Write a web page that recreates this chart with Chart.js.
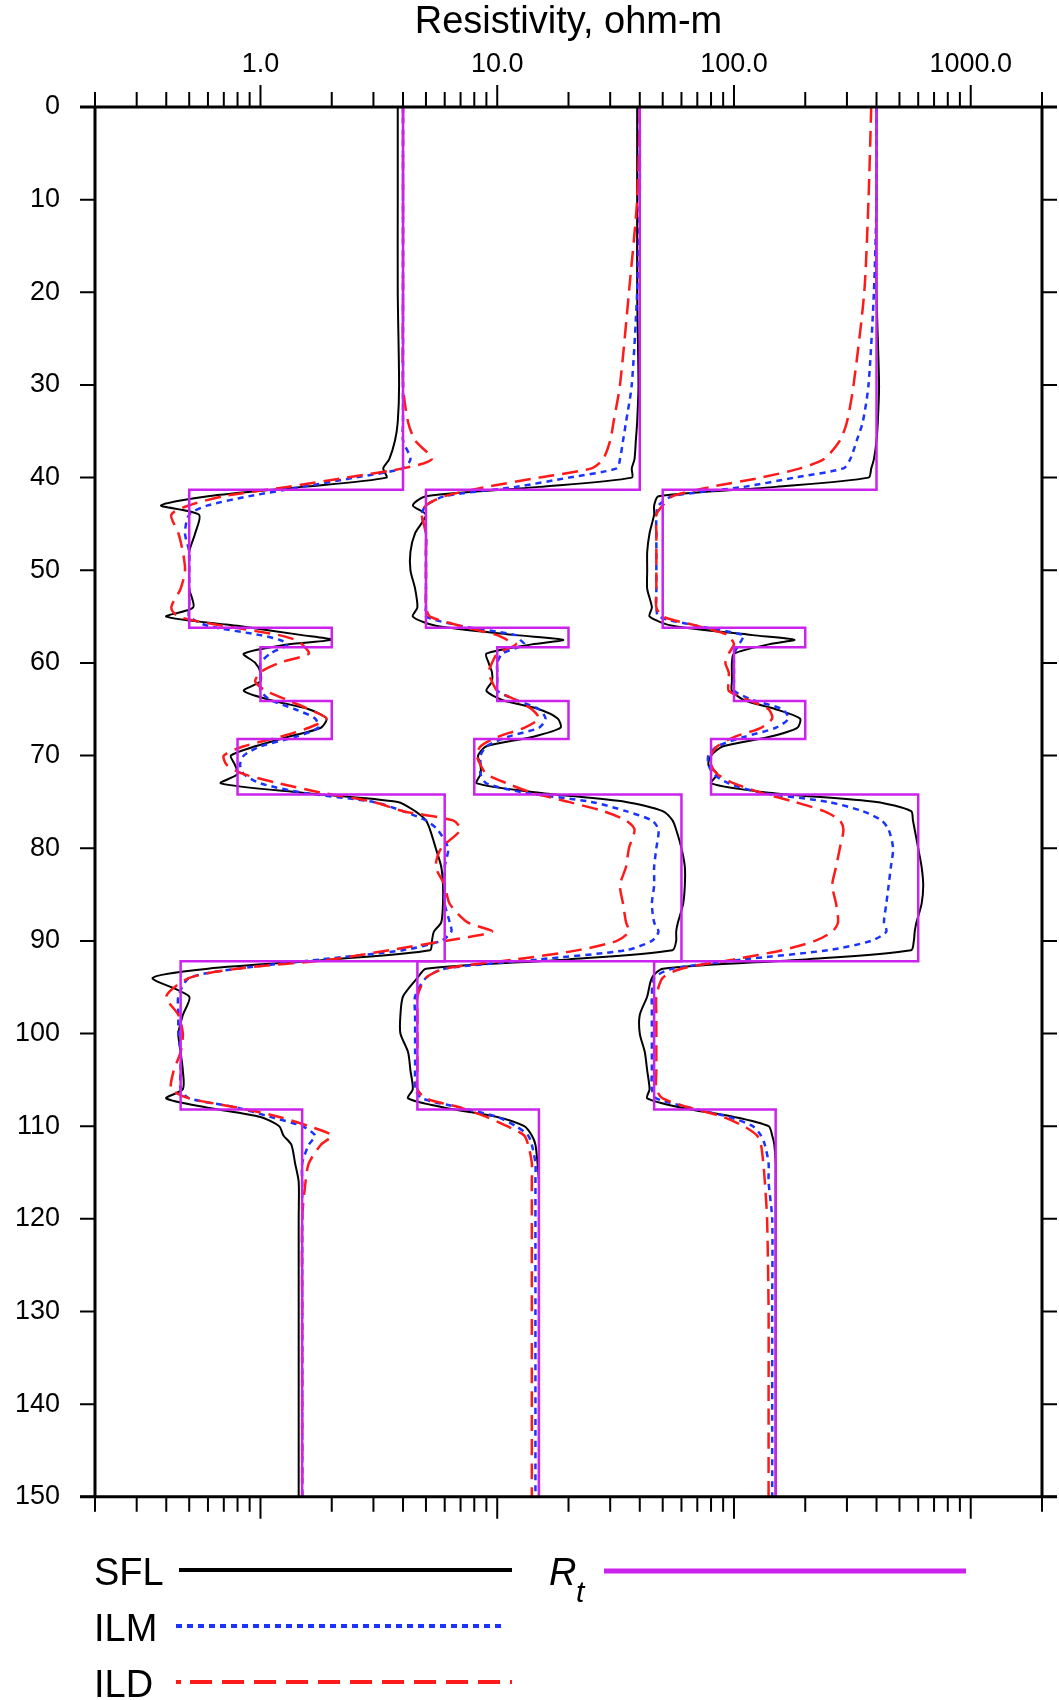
<!DOCTYPE html>
<html>
<head>
<meta charset="utf-8">
<script src="https://cdn.jsdelivr.net/npm/chart.js@4.4.1/dist/chart.umd.min.js"></script>
<style>
    body { margin: 0; background: #fff; }
    #wrap { position: absolute; left: 0; top: 0; width: 1059px; height: 1540px; }
    #legend { position: absolute; left: 0; top: 1530px; }
</style>
</head>
<body>
<div id="wrap"><canvas id="logChart" width="1059" height="1540"></canvas></div>
<svg id="legend" width="1059" height="170" font-family="'Liberation Sans', Arial, sans-serif" font-size="38">
    <text x="94" y="55">SFL</text>
    <line x1="179" y1="40" x2="512" y2="40" stroke="#000" stroke-width="4"/>
    <text x="549" y="55" font-style="italic">R</text>
    <text x="576" y="72" font-style="italic" font-size="30">t</text>
    <line x1="604" y1="41" x2="966" y2="41" stroke="#cc22ee" stroke-width="5"/>
    <text x="94" y="111">ILM</text>
    <line x1="176" y1="96" x2="503" y2="96" stroke="#1a33ff" stroke-width="4" stroke-dasharray="6,5"/>
    <text x="94" y="167">ILD</text>
    <line x1="176" y1="152" x2="181" y2="152" stroke="#ff1a1a" stroke-width="4"/>
    <line x1="190" y1="152" x2="512" y2="152" stroke="#ff1a1a" stroke-width="4" stroke-dasharray="22,10"/>
</svg>
<script>
// depth grid (m) shared by all logged curves
const depths = [
    0, 10, 20, 30,
    34, 36, 38, 39, 40, 41, 42, 43, 44,
    46, 48, 50, 52, 54, 55, 56, 57, 57.5, 58,
    59, 60, 61, 62, 63, 64, 65, 66, 67, 68,
    69, 70, 71, 72, 73, 74, 75, 76, 77, 78,
    80, 82, 84, 86, 88, 89, 90, 91, 92, 93, 94,
    96, 98, 100, 102, 104, 106, 107, 108, 109, 110,
    111, 112, 114, 116, 120, 130, 140, 150
];

// model 1
const sfl1 = [
    3.8, 3.8, 3.8, 3.85,
    3.8, 3.7, 3.5, 3.3, 3.4, 1.5, 0.6, 0.38, 0.55,
    0.53, 0.5, 0.5, 0.5, 0.52, 0.4, 0.8, 1.5, 2.0, 1.3,
    0.85, 0.95, 1.0, 1.0, 0.85, 1.1, 1.6, 1.9, 1.8, 1.3,
    0.95, 0.75, 0.78, 0.8, 0.68, 1.5, 3.8, 4.5, 5.0, 5.2,
    5.5, 5.8, 5.9, 5.9, 5.8, 5.4, 5.3, 5.2, 2.0, 0.6, 0.35,
    0.5, 0.47, 0.45, 0.46, 0.47, 0.47, 0.4, 0.6, 1.0, 1.2,
    1.25, 1.35, 1.4, 1.45, 1.45, 1.45, 1.45, 1.45
];
const ilm1 = [
    4, 4, 4, 4,
    4, 4, 4.3, 4.0, 2.5, 1.5, 0.9, 0.6, 0.5,
    0.48, 0.5, 0.5, 0.5, 0.5, 0.5, 0.6, 1.0, 1.2, 1.3,
    1.1, 1.0, 1.0, 1.0, 1.0, 1.1, 1.4, 1.7, 1.75, 1.4,
    1.0, 0.85, 0.82, 0.85, 1.0, 1.5, 3.0, 4.0, 5.0, 5.6,
    6.2, 6.0, 6.0, 6.0, 6.3, 6.4, 5.8, 4.0, 1.8, 0.8, 0.5,
    0.45, 0.45, 0.45, 0.46, 0.46, 0.46, 0.5, 0.8, 1.1, 1.5,
    1.7, 1.6, 1.5, 1.5, 1.5, 1.5, 1.5, 1.5
];
const ild1 = [
    4, 4, 4, 4,
    4.2, 4.5, 5.3, 4.0, 2.3, 1.3, 0.7, 0.5, 0.42,
    0.45, 0.47, 0.48, 0.46, 0.42, 0.45, 0.7, 1.2, 1.4, 1.5,
    1.6, 1.2, 1.0, 0.95, 1.05, 1.3, 1.6, 1.9, 1.6, 1.2,
    0.85, 0.7, 0.72, 0.85, 1.2, 1.8, 3.0, 4.0, 6.5, 7.0,
    5.8, 5.5, 6.0, 6.3, 7.5, 9.5, 6.0, 3.5, 2.0, 0.8, 0.5,
    0.4, 0.45, 0.47, 0.46, 0.43, 0.42, 0.5, 0.8, 1.2, 1.6,
    2.0, 1.8, 1.6, 1.55, 1.5, 1.5, 1.5, 1.5
];

// model 2
const sfl2 = [
    39, 39, 39, 39.5,
    39, 38.5, 38, 37, 37, 15, 5, 4.4, 5,
    4.5, 4.3, 4.3, 4.5, 4.6, 4.4, 5.5, 12, 19, 14,
    9, 9.2, 9.5, 9.5, 9.0, 10.5, 15, 18, 18.5, 14,
    9, 8.3, 8.5, 8.5, 8.2, 15, 35, 50, 55, 57,
    60, 62, 62, 61, 58, 57, 57, 55, 20, 5, 4.6,
    4.0, 3.9, 3.9, 4.2, 4.3, 4.4, 4.2, 6, 10, 13,
    14, 14.5, 14.8, 15, 15, 15, 15, 15
];
const ilm2 = [
    40, 40, 39, 37,
    35, 34, 33, 32, 20, 12, 6, 5, 4.8,
    5, 5, 5, 5, 5, 5, 7, 12, 12.5, 13,
    10.5, 10, 10, 10, 10, 12, 15, 16, 15, 11,
    9, 8.5, 8.5, 8.5, 9, 13, 25, 35, 45, 48,
    47, 46, 46, 45, 46, 48, 45, 35, 15, 6, 5,
    4.5, 4.5, 4.5, 4.5, 4.5, 4.5, 4.8, 7, 10, 12,
    13.5, 14, 14.5, 14.5, 14.5, 14.5, 14.5, 14.5
];
const ild2 = [
    40, 39, 36, 33,
    31, 30, 28, 25, 15, 9, 6, 5, 4.8,
    5, 5, 5, 5, 5, 5.2, 7, 10, 11, 12,
    10, 9.5, 9.2, 9.5, 10, 12, 14, 15, 13, 10,
    8.5, 8.2, 8.5, 9, 11, 14, 20, 28, 35, 38,
    36, 35, 33, 34, 35, 36, 32, 22, 12, 6, 5,
    4.6, 4.6, 4.6, 4.6, 4.6, 4.6, 5, 7, 9, 11,
    13, 13.5, 14, 14, 14, 14, 14, 14
];

// model 3
const sfl3 = [
    400, 400, 400, 410,
    405, 400, 390, 380, 370, 150, 48, 46, 46,
    44, 43, 43, 43, 45, 44, 55, 120, 180, 140,
    100, 98, 98, 98, 98, 110, 150, 190, 185, 140,
    90, 80, 78, 85, 80, 140, 400, 560, 570, 580,
    600, 620, 630, 620, 590, 580, 575, 560, 200, 50, 45,
    43, 40, 40, 42, 43, 44, 43, 60, 100, 140,
    145, 148, 150, 150, 150, 150, 150, 150
];
const ilm3 = [
    400, 400, 390, 370,
    350, 330, 310, 290, 180, 110, 55, 48, 47,
    47, 47, 47, 47, 47, 48, 70, 110, 108, 105,
    100, 100, 100, 100, 100, 120, 160, 170, 150, 110,
    85, 78, 78, 82, 95, 130, 250, 350, 420, 450,
    470, 460, 450, 440, 430, 440, 380, 250, 110, 55, 46,
    45, 45, 45, 45, 45, 45, 47, 65, 95, 120,
    130, 135, 140, 140, 145, 145, 145, 145
];
const ild3 = [
    380, 370, 355, 320,
    300, 280, 240, 190, 130, 80, 55, 50, 47,
    47, 47, 47, 47, 47, 50, 70, 95, 98, 100,
    95, 92, 95, 95, 95, 115, 140, 145, 130, 100,
    85, 80, 80, 85, 100, 130, 180, 240, 280, 290,
    280, 270, 260, 270, 275, 260, 220, 160, 100, 60, 50,
    47, 47, 47, 47, 47, 47, 50, 65, 90, 110,
    125, 130, 133, 135, 138, 140, 140, 140
];

// true resistivity (step profile), bed boundaries
const rtDepths = [0, 41.3, 41.3, 56.2, 56.2, 58.3, 58.3, 64.1, 64.1, 68.2, 68.2, 74.2, 74.2, 92.2, 92.2, 108.2, 108.2, 150];
const rt1 = [4, 4, 0.5, 0.5, 2, 2, 1, 1, 2, 2, 0.8, 0.8, 6, 6, 0.46, 0.46, 1.5, 1.5];
const rt2 = [40, 40, 5, 5, 20, 20, 10, 10, 20, 20, 8, 8, 60, 60, 4.6, 4.6, 15, 15];
const rt3 = [400, 400, 50, 50, 200, 200, 100, 100, 200, 200, 80, 80, 600, 600, 46, 46, 150, 150];

const majorTicks = [1, 10, 100, 1000];
const depthTicks = [0, 10, 20, 30, 40, 50, 60, 70, 80, 90, 100, 110, 120, 130, 140, 150];

const toPoints = (vals, ds) => vals.map((v, i) => ({x: v, y: ds[i]}));

function curve(vals, kind) {
    const styles = {
        sfl: {borderColor: "#000000", borderWidth: 2, borderDash: [], order: 4},
        ilm: {borderColor: "#1a33ff", borderWidth: 2.5, borderDash: [6, 5], order: 3},
        ild: {borderColor: "#ff1a1a", borderWidth: 2.5, borderDash: [16, 8], order: 2}
    };
    return Object.assign({
        data: toPoints(vals, depths),
        showLine: true,
        pointRadius: 0,
        tension: 0.25,
        fill: false
    }, styles[kind]);
}

function rtCurve(vals) {
    return {
        data: toPoints(vals, rtDepths),
        showLine: true,
        pointRadius: 0,
        tension: 0,
        borderColor: "#cc22ee",
        borderWidth: 2.5,
        order: 1
    };
}

// all axis lines and ticks (different lengths for major/minor)
const axisFrame = {
    id: "axisFrame",
    afterDraw(chart) {
        const ctx = chart.ctx;
        const a = chart.chartArea;
        const xs = chart.scales.x;
        const ys = chart.scales.y;
        ctx.save();
        ctx.strokeStyle = "#000";
        ctx.lineWidth = 3;
        ctx.beginPath();
        ctx.moveTo(a.left - 15, a.top); ctx.lineTo(a.right + 15, a.top);
        ctx.moveTo(a.left - 15, a.bottom); ctx.lineTo(a.right + 15, a.bottom);
        ctx.moveTo(a.left, a.top); ctx.lineTo(a.left, a.bottom);
        ctx.moveTo(a.right, a.top); ctx.lineTo(a.right, a.bottom);
        ctx.stroke();

        ctx.lineWidth = 2;
        ctx.beginPath();
        for (let dec = 0.1; dec < 2000; dec *= 10) {
            for (let m = 1; m <= 9; m++) {
                const v = Math.round(dec * m * 1000) / 1000;
                if (v < 0.2 || v > 2000) continue;
                const px = xs.getPixelForValue(v);
                const len = majorTicks.includes(v) ? 22 : 15;
                ctx.moveTo(px, a.top); ctx.lineTo(px, a.top - len);
                ctx.moveTo(px, a.bottom); ctx.lineTo(px, a.bottom + len);
            }
        }
        const pEnd = xs.getPixelForValue(2000);
        ctx.moveTo(pEnd, a.top); ctx.lineTo(pEnd, a.top - 15);
        ctx.moveTo(pEnd, a.bottom); ctx.lineTo(pEnd, a.bottom + 15);
        depthTicks.forEach(d => {
            const py = ys.getPixelForValue(d);
            ctx.moveTo(a.left, py); ctx.lineTo(a.left - 15, py);
            ctx.moveTo(a.right, py); ctx.lineTo(a.right + 15, py);
        });
        ctx.stroke();
        ctx.restore();
    }
};

const font = "'Liberation Sans', Arial, sans-serif";

new Chart(document.getElementById("logChart"), {
    type: "scatter",
    data: {
        datasets: [
            curve(sfl1, "sfl"), curve(ilm1, "ilm"), curve(ild1, "ild"), rtCurve(rt1),
            curve(sfl2, "sfl"), curve(ilm2, "ilm"), curve(ild2, "ild"), rtCurve(rt2),
            curve(sfl3, "sfl"), curve(ilm3, "ilm"), curve(ild3, "ild"), rtCurve(rt3)
        ]
    },
    options: {
        responsive: false,
        animation: false,
        devicePixelRatio: 1,
        layout: {padding: 0},
        plugins: {legend: {display: false}, tooltip: {enabled: false}},
        scales: {
            x: {
                type: "logarithmic",
                position: "top",
                min: 0.2,
                max: 2000,
                grid: {display: false},
                border: {display: false},
                afterBuildTicks: s => { s.ticks = majorTicks.map(v => ({value: v})); },
                afterFit: s => { s.height = 107; },
                ticks: {
                    color: "#000",
                    font: {family: font, size: 27},
                    padding: 18,
                    maxRotation: 0,
                    callback: v => v.toFixed(1)
                },
                title: {
                    display: true,
                    text: "Resistivity, ohm-m",
                    color: "#000",
                    font: {family: font, size: 38},
                    padding: {top: 0, bottom: 0}
                }
            },
            x2: {
                type: "logarithmic",
                position: "bottom",
                min: 0.2,
                max: 2000,
                grid: {display: false},
                border: {display: false},
                ticks: {display: false},
                afterFit: s => { s.height = 27; }
            },
            y: {
                type: "linear",
                reverse: true,
                min: 0,
                max: 150,
                grid: {display: false},
                border: {display: false},
                afterBuildTicks: s => { s.ticks = depthTicks.map(v => ({value: v})); },
                afterFit: s => { s.width = 95; },
                ticks: {
                    color: "#000",
                    font: {family: font, size: 27},
                    padding: 27
                }
            },
            y2: {
                type: "linear",
                position: "right",
                reverse: true,
                min: 0,
                max: 150,
                grid: {display: false},
                border: {display: false},
                ticks: {display: false},
                afterFit: s => { s.width = 17; }
            }
        }
    },
    plugins: [axisFrame]
});
</script>
</body>
</html>
